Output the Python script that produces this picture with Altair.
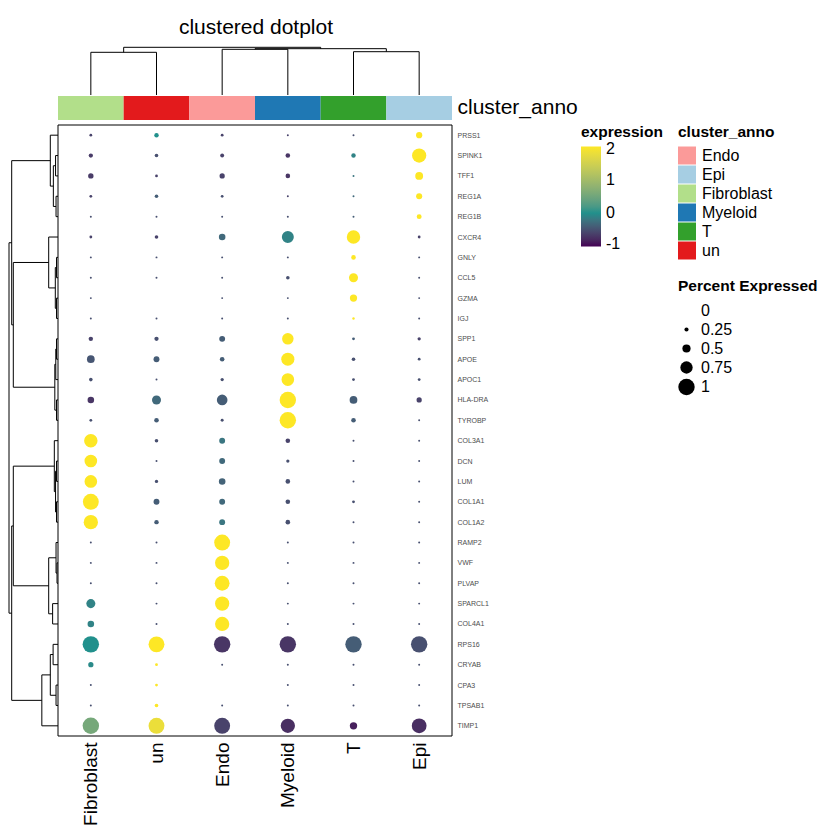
import altair as alt
import pandas as pd

FONT = "Liberation Sans"

# ---------------- data ----------------
clusters = ["Fibroblast", "un", "Endo", "Myeloid", "T", "Epi"]
genes = ["PRSS1", "SPINK1", "TFF1", "REG1A", "REG1B", "CXCR4", "GNLY", "CCL5",
         "GZMA", "IGJ", "SPP1", "APOE", "APOC1", "HLA-DRA", "TYROBP", "COL3A1",
         "DCN", "LUM", "COL1A1", "COL1A2", "RAMP2", "VWF", "PLVAP", "SPARCL1",
         "COL4A1", "RPS16", "CRYAB", "CPA3", "TPSAB1", "TIMP1"]

pct_fibroblast = [0.17, 0.26, 0.33, 0.17, 0.12, 0.17, 0.12, 0.12, 0.12, 0.12,
                  0.27, 0.47, 0.22, 0.4, 0.17, 0.82, 0.77, 0.77, 0.97, 0.87,
                  0.12, 0.12, 0.12, 0.55, 0.4, 1.0, 0.32, 0.12, 0.12, 1.0]
pct_un = [0.27, 0.22, 0.17, 0.22, 0.12, 0.22, 0.12, 0.12, 0.0, 0.12,
          0.26, 0.36, 0.12, 0.55, 0.28, 0.22, 0.12, 0.2, 0.36, 0.27,
          0.12, 0.12, 0.12, 0.12, 0.12, 0.97, 0.17, 0.17, 0.22, 0.97]
pct_endo = [0.17, 0.24, 0.32, 0.17, 0.12, 0.4, 0.12, 0.12, 0.12, 0.12,
            0.36, 0.28, 0.2, 0.65, 0.18, 0.36, 0.36, 0.4, 0.36, 0.36,
            0.97, 0.87, 0.9, 0.87, 0.87, 1.0, 0.12, 0.0, 0.12, 0.97]
pct_myeloid = [0.12, 0.28, 0.28, 0.12, 0.12, 0.73, 0.12, 0.22, 0.12, 0.12,
               0.7, 0.8, 0.77, 1.0, 1.0, 0.28, 0.2, 0.28, 0.28, 0.28,
               0.12, 0.12, 0.12, 0.12, 0.12, 1.0, 0.12, 0.12, 0.12, 0.87]
pct_t = [0.12, 0.27, 0.12, 0.12, 0.12, 0.82, 0.28, 0.55, 0.44, 0.15,
         0.17, 0.22, 0.17, 0.47, 0.28, 0.12, 0.12, 0.12, 0.17, 0.12,
         0.12, 0.12, 0.12, 0.12, 0.12, 1.0, 0.12, 0.12, 0.12, 0.45]
pct_epi = [0.38, 0.87, 0.48, 0.37, 0.3, 0.17, 0.12, 0.12, 0.12, 0.12,
           0.2, 0.17, 0.17, 0.32, 0.12, 0.12, 0.12, 0.12, 0.12, 0.12,
           0.12, 0.12, 0.12, 0.12, 0.12, 1.0, 0.12, 0.12, 0.12, 0.9]

expr_fibroblast = [-0.6, -0.65, -0.65, -0.6, -0.5, -0.6, -0.5, -0.5, -0.5, -0.5,
                   -0.6, -0.45, -0.5, -0.7, -0.5, 2, 2, 2, 2, 2,
                   -0.5, -0.5, -0.5, -0.1, -0.1, 0.0, -0.05, -0.5, -0.5, 0.55]
expr_un = [0.0, -0.5, -0.6, -0.4, -0.5, -0.6, -0.5, -0.5, -0.5, -0.5,
           -0.5, -0.4, -0.5, -0.3, -0.4, -0.5, -0.5, -0.5, -0.4, -0.4,
           -0.5, -0.5, -0.5, -0.5, -0.5, 2, 2, 2, 2, 1.8]
expr_endo = [-0.6, -0.6, -0.6, -0.5, -0.5, -0.3, -0.5, -0.5, -0.5, -0.5,
             -0.4, -0.4, -0.5, -0.4, -0.5, -0.2, -0.3, -0.35, -0.3, -0.2,
             2, 2, 2, 2, 2, -0.7, -0.5, -0.5, -0.5, -0.6]
expr_myeloid = [-0.6, -0.7, -0.7, -0.6, -0.5, -0.1, -0.5, -0.5, -0.5, -0.5,
                2, 2, 2, 2, 2, -0.6, -0.5, -0.5, -0.5, -0.5,
                -0.5, -0.5, -0.5, -0.5, -0.5, -0.7, -0.5, -0.5, -0.5, -0.75]
expr_t = [-0.5, -0.1, -0.2, -0.3, -0.4, 2, 2, 2, 2, 2,
          -0.4, -0.5, -0.5, -0.4, -0.4, -0.5, -0.5, -0.5, -0.5, -0.5,
          -0.5, -0.5, -0.5, -0.5, -0.5, -0.4, -0.5, -0.5, -0.5, -0.85]
expr_epi = [2, 2, 2, 2, 2, -0.6, -0.5, -0.5, -0.5, -0.5,
            -0.6, -0.5, -0.5, -0.6, -0.5, -0.5, -0.5, -0.5, -0.5, -0.5,
            -0.5, -0.5, -0.5, -0.5, -0.5, -0.5, -0.5, -0.5, -0.5, -0.75]

pct_by_cluster = {"Fibroblast": pct_fibroblast, "un": pct_un, "Endo": pct_endo,
                  "Myeloid": pct_myeloid, "T": pct_t, "Epi": pct_epi}
expr_by_cluster = {"Fibroblast": expr_fibroblast, "un": expr_un, "Endo": expr_endo,
                   "Myeloid": expr_myeloid, "T": expr_t, "Epi": expr_epi}

anno_levels = ["Endo", "Epi", "Fibroblast", "Myeloid", "T", "un"]
anno_colors = ["#FB9A99", "#A6CEE3", "#B2DF8A", "#1F78B4", "#33A02C", "#E31A1C"]

expr_legend_ticks = [-0.92, 0, 1, 1.92]   # label spots on the colour bar (labels -1, 0, 1, 2)
pct_legend_values = [0, 0.25, 0.5, 0.75, 1]

# dendrogram merges: child a, child b, merge height ("#k" = k-th merge)
col_links = [
    ["Fibroblast", "un", 0.895],
    ["Endo", "Myeloid", 0.958],
    ["T", "Epi", 0.908],
    ["#1", "#2", 0.971],
    ["#0", "#3", 1.0],
]
row_links = [
    ["SPINK1", "TFF1", 0.05],        # 0
    ["REG1A", "REG1B", 0.04],        # 1
    ["#0", "#1", 0.095],             # 2
    ["PRSS1", "#2", 0.157],          # 3
    ["GNLY", "CCL5", 0.03],          # 4
    ["GZMA", "IGJ", 0.03],           # 5
    ["#4", "#5", 0.055],             # 6
    ["CXCR4", "#6", 0.19],           # 7
    ["SPP1", "APOE", 0.03],          # 8
    ["#8", "APOC1", 0.045],          # 9
    ["HLA-DRA", "TYROBP", 0.03],     # 10
    ["#9", "#10", 0.065],            # 11
    ["#7", "#11", 0.912],            # 12
    ["#3", "#12", 0.945],            # 13
    ["DCN", "LUM", 0.03],            # 14
    ["COL1A1", "COL1A2", 0.03],      # 15
    ["#14", "#15", 0.05],            # 16
    ["COL3A1", "#16", 0.075],        # 17
    ["VWF", "PLVAP", 0.02],          # 18
    ["RAMP2", "#18", 0.04],          # 19
    ["SPARCL1", "COL4A1", 0.11],     # 20
    ["#19", "#20", 0.19],            # 21
    ["#17", "#21", 0.912],           # 22
    ["RPS16", "CRYAB", 0.1],         # 23
    ["CPA3", "TPSAB1", 0.04],        # 24
    ["#23", "#24", 0.157],           # 25
    ["#25", "TIMP1", 0.33],          # 26
    ["#22", "#26", 0.945],           # 27
    ["#13", "#27", 1.0],             # 28
]


def dendro_segments(leaves, links):
    pos = {name: float(i) for i, name in enumerate(leaves)}
    hgt = {name: 0.0 for name in leaves}
    segs = []
    for k, (a, b, h) in enumerate(links):
        for c in (a, b):
            segs.append(dict(p=pos[c], p2=pos[c], h=hgt[c], h2=h))
        segs.append(dict(p=pos[a], p2=pos[b], h=h, h2=h))
        node = f"#{k}"
        pos[node] = (pos[a] + pos[b]) / 2
        hgt[node] = h
    return pd.DataFrame(segs)


dots_df = pd.DataFrame([
    dict(gene=g, cluster=c, pct=pct_by_cluster[c][i], expr=expr_by_cluster[c][i])
    for c in clusters for i, g in enumerate(genes)
])
anno_df = pd.DataFrame({"cluster": clusters, "track": ["cluster_anno"] * len(clusters)})
top_df = dendro_segments(clusters, col_links)
left_df = dendro_segments(genes, row_links)

# ---------------- layout (plot-area pixels) ----------------
W, H = 443, 728
PX = [49, 443]          # panel x range
PY = [117, 728]         # panel y range
ANNO_Y = [88, 112]
TOP_H = [87, 39.3]
LEFT_H = [49, 0]

band_x = alt.Scale(domain=clusters, range=PX, paddingInner=0, paddingOuter=0)

title = alt.Chart(pd.DataFrame({"t": ["clustered dotplot"]})).mark_text(
    fontSize=21, font=FONT, align="center", baseline="middle", color="black"
).encode(x=alt.value(247), y=alt.value(20), text="t:N")

top_dendro = alt.Chart(top_df).mark_rule(color="black", strokeWidth=1).encode(
    x=alt.X("p:Q", scale=alt.Scale(domain=[-0.5, len(clusters) - 0.5], range=PX, nice=False, zero=False), axis=None),
    x2="p2:Q",
    y=alt.Y("h:Q", scale=alt.Scale(domain=[0, 1], range=TOP_H, nice=False, zero=False), axis=None),
    y2="h2:Q",
)

anno = alt.Chart(anno_df).mark_rect().encode(
    x=alt.X("cluster:N", scale=band_x, axis=None),
    y=alt.Y("track:N", scale=alt.Scale(domain=["cluster_anno"], range=ANNO_Y, paddingInner=0, paddingOuter=0),
            axis=alt.Axis(orient="right", title=None, labelFontSize=21, labelFont=FONT, labelColor="black",
                          ticks=False, domain=False, labelPadding=5)),
    fill=alt.Fill("cluster:N", scale=alt.Scale(domain=anno_levels, range=anno_colors),
                  legend=alt.Legend(orient="none", legendX=669, legendY=117, title="cluster_anno",
                                    symbolType="square", symbolSize=324, symbolStrokeWidth=0,
                                    labelFontSize=16, labelFont=FONT, titleFont=FONT, titleFontSize=15.5,
                                    titleFontWeight="bold", titleColor="black", labelColor="black",
                                    rowPadding=1, labelOffset=6, titlePadding=6, padding=0)),
)

left_dendro = alt.Chart(left_df).mark_rule(color="black", strokeWidth=1).encode(
    y=alt.Y("p:Q", scale=alt.Scale(domain=[-0.5, len(genes) - 0.5], range=PY, nice=False, zero=False), axis=None),
    y2="p2:Q",
    x=alt.X("h:Q", scale=alt.Scale(domain=[0, 1], range=LEFT_H, nice=False, zero=False), axis=None),
    x2="h2:Q",
)

frame = alt.Chart(pd.DataFrame({"a": [0]})).mark_rect(
    fillOpacity=0, stroke="black", strokeWidth=1
).encode(x=alt.value(PX[0]), x2=alt.value(PX[1]), y=alt.value(PY[0]), y2=alt.value(PY[1]))

dots = alt.Chart(dots_df).mark_circle(opacity=1).encode(
    x=alt.X("cluster:N", scale=band_x,
            axis=alt.Axis(orient="bottom", title=None, labelAngle=270, labelFontSize=19, labelFont=FONT,
                          labelColor="black", ticks=False, domain=False, labelPadding=6)),
    y=alt.Y("gene:N", scale=alt.Scale(domain=genes, range=PY, paddingInner=0, paddingOuter=0),
            axis=alt.Axis(orient="right", title=None, labelFontSize=7, labelFont=FONT, labelColor="#4D4D4D",
                          ticks=False, domain=False, labelPadding=5)),
    color=alt.Color("expr:Q",
                    scale=alt.Scale(domain=[-1, 0, 2], range=["#440154", "#21908C", "#FDE725"],
                                    interpolate="lab", clamp=True),
                    legend=alt.Legend(orient="none", legendX=572, legendY=117, title="expression",
                                      values=expr_legend_ticks, labelExpr="'' + round(datum.value)",
                                      gradientLength=100, gradientThickness=20,
                                      gradientStrokeWidth=0, labelFontSize=16, labelFont=FONT,
                                      titleFont=FONT, titleFontSize=15.5, titleFontWeight="bold",
                                      titleColor="black", labelColor="black", titlePadding=6,
                                      labelBaseline="middle", labelOffset=5, padding=0,
                                      direction="vertical")),
    size=alt.Size("pct:Q", scale=alt.Scale(type="pow", exponent=2, domain=[0, 1], range=[0, 269]),
                  legend=alt.Legend(orient="none", legendX=669, legendY=271, title="Percent Expressed",
                                    values=pct_legend_values, labelExpr="'' + datum.value",
                                    symbolFillColor="black", symbolStrokeColor="black", symbolStrokeWidth=0,
                                    symbolOpacity=1, labelFontSize=16, labelFont=FONT, titleFont=FONT,
                                    titleFontSize=15.5, titleFontWeight="bold", titleColor="black",
                                    labelColor="black", rowPadding=3, labelOffset=6, titlePadding=8,
                                    padding=0)),
)

chart = alt.layer(title, top_dendro, anno, left_dendro, frame, dots).resolve_scale(
    x="independent", y="independent", color="independent", fill="independent", size="independent"
).properties(width=W, height=H, padding=0).configure(font=FONT).configure_view(stroke=None)

chart.save("out.html", embed_options={"renderer": "svg", "actions": False})
